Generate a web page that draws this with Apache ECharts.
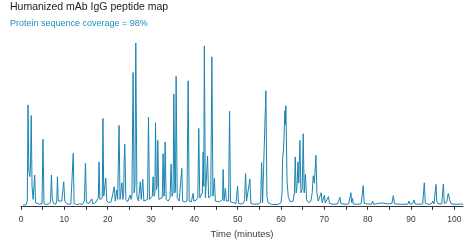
<!DOCTYPE html>
<html>
<head>
<meta charset="utf-8">
<script src="https://cdn.jsdelivr.net/npm/echarts@6/dist/echarts.min.js"></script>
<style>
  html, body { margin: 0; padding: 0; background: #fff; }
  #chart { width: 474px; height: 246px; }
</style>
</head>
<body>
<div id="chart"></div>
<script>
// peptide map trace, [time (min), relative intensity %]
const traceEarly = [
    [0.5, 0.6], [1.2, 0.8], [1.45, 3], [1.62, 62], [1.8, 22], [2.05, 18], [2.2, 26], [2.36, 55.5],
    [2.55, 12], [2.8, 4], [3.0, 4], [3.16, 19], [3.35, 2], [3.8, 1.2], [4.3, 1], [4.85, 1.5],
    [5.08, 41], [5.3, 1.5], [5.8, 0.8], [6.3, 1.2], [6.8, 2], [7.02, 19], [7.2, 5], [7.5, 1.5],
    [8.0, 1], [8.25, 3], [8.41, 17.9], [8.6, 3], [9.0, 2], [9.4, 3], [9.6, 8], [9.86, 14.8],
    [10.1, 3], [10.5, 1.5], [11.0, 1], [11.5, 1.2], [11.9, 1], [12.06, 32.3], [12.25, 1.5],
    [12.8, 0.8], [13.5, 1.2], [14.2, 1], [14.6, 3], [14.7, 9], [14.87, 26.2], [15.1, 2],
    [15.7, 1.5], [16.1, 1.2], [16.33, 4.3], [16.6, 1.2], [17.2, 2], [17.6, 2.5], [17.85, 5],
    [18.01, 27], [18.2, 4], [18.5, 3], [18.75, 5], [18.91, 53.7], [19.1, 6], [19.35, 5],
    [19.56, 17.1], [19.8, 3], [20.3, 2]
];

const traceMiddle = [
    [20.8, 2.5], [21.2, 3.5], [21.52, 11.8], [21.75, 3], [21.95, 4], [22.1, 9.8], [22.3, 4],
    [22.48, 5], [22.63, 49.4], [22.85, 4], [23.1, 5], [23.3, 14.2], [23.5, 4], [23.7, 8],
    [23.8, 27], [23.95, 37.8], [24.2, 4], [24.6, 2.5], [25.0, 3], [25.2, 6.7], [25.4, 4],
    [25.6, 6], [25.87, 81.9], [26.1, 8], [26.3, 12], [26.49, 100], [26.75, 6], [27.1, 3],
    [27.35, 4], [27.53, 14.8], [27.75, 4], [27.95, 5], [28.1, 16.3], [28.35, 3], [28.8, 2.5],
    [29.2, 4], [29.42, 54.5], [29.65, 4], [30.0, 3.5], [30.3, 6], [30.49, 17.9], [30.7, 6],
    [30.9, 8], [31.04, 51], [31.25, 10], [31.4, 12], [31.57, 40.2], [31.8, 4], [32.2, 3],
    [32.6, 5], [32.79, 32.1], [33.0, 6], [33.1, 10], [33.26, 39.2], [33.5, 4], [34.0, 3],
    [34.4, 5], [34.64, 25.6], [34.85, 6], [35.1, 8], [35.27, 68.7], [35.5, 8], [35.65, 10],
    [35.8, 79.5], [36.05, 5], [36.5, 3], [36.9, 4], [37.11, 23], [37.3, 3], [37.8, 2.5],
    [38.3, 3], [38.57, 76.8], [38.8, 3], [39.3, 2.5], [39.55, 3.5], [39.72, 7.7], [39.9, 3],
    [40.4, 3.5], [40.8, 5], [41.02, 47.6], [41.25, 5], [41.6, 4], [41.85, 8], [42.03, 33.1],
    [42.18, 12], [42.31, 98.2], [42.55, 5], [42.85, 6], [43.05, 30.5], [43.3, 5], [43.8, 6],
    [44.04, 91.5], [44.3, 6], [44.45, 5], [44.62, 16.9], [44.85, 3]
];

const traceLate = [
    [45.3, 2], [45.8, 2.5], [46.2, 2], [46.5, 4], [46.65, 22.4], [46.85, 3], [47.0, 4],
    [47.16, 10.8], [47.4, 3], [47.9, 3], [48.13, 58.1], [48.35, 2.5], [49.0, 2], [49.6, 1.5],
    [49.98, 12.2], [50.2, 1.5], [50.8, 1.2], [51.4, 2], [51.6, 4], [51.82, 19.9], [52.05, 3],
    [52.5, 2.5], [52.82, 16.5], [53.05, 1.5], [53.8, 1], [54.7, 1.2], [55.3, 2], [55.52, 26.6],
    [55.75, 2], [56.2, 3], [56.51, 70.7], [56.75, 6], [57.0, 2], [57.8, 1], [58.6, 0.8],
    [59.4, 1], [60.0, 2], [60.25, 8], [60.37, 28.7], [60.6, 35], [60.9, 58.5], [61.0, 50],
    [61.13, 61.6], [61.4, 15], [61.7, 5], [62.2, 2.5], [62.8, 3], [63.1, 8], [63.28, 30.1],
    [63.5, 8], [63.7, 12], [63.9, 27], [64.1, 14], [64.36, 40.2], [64.6, 8], [64.9, 10],
    [65.13, 44.3], [65.35, 8], [65.64, 19.5], [65.9, 4], [66.4, 2], [66.9, 3], [67.2, 8],
    [67.44, 18.5], [67.7, 14], [68.06, 31], [68.3, 8], [68.6, 3], [69.0, 2], [69.28, 8.1],
    [69.5, 2], [69.8, 2], [70.02, 6.7], [70.2, 1.8]
];

const traceTail = [
    [70.6, 1.5], [70.95, 5.7], [71.2, 1.5], [72.0, 1], [73.0, 1.2], [73.4, 1.5], [73.6, 5.3],
    [73.8, 1.5], [74.8, 1], [75.6, 1.2], [75.95, 2], [76.14, 8.1], [76.3, 2], [76.49, 4.7],
    [76.7, 1.2], [77.6, 1], [78.5, 1.3], [78.8, 2], [78.98, 12.4], [79.2, 1.5], [80.0, 1.2],
    [80.9, 1], [81.15, 3], [81.4, 1], [82.3, 1.5], [83.5, 1.8], [84.6, 1.2], [85.6, 1.5],
    [85.91, 6.3], [86.2, 1.3], [87.5, 1], [88.6, 1], [89.3, 1.2], [89.54, 3], [89.8, 1],
    [90.4, 1.5], [90.69, 3.7], [90.95, 1.2], [91.8, 1], [92.7, 1.2], [92.9, 2], [93.07, 14.2],
    [93.3, 1.5], [94.2, 1], [94.8, 1.5], [95.01, 3], [95.3, 1.2], [95.6, 2], [95.77, 13.2],
    [95.95, 3], [96.2, 1.3], [97.1, 1.2], [97.3, 2], [97.46, 13.4], [97.7, 1.5], [98.2, 2],
    [98.61, 7.7], [98.9, 4], [99.3, 1.2], [100.5, 1], [101.5, 1.2], [102, 1]
];

const tickValues = [0, 5, 10, 15, 20, 25, 30, 35, 40, 45, 50, 55, 60, 65, 70, 75, 80, 85, 90, 95, 100];
const labelValues = [0, 10, 20, 30, 40, 50, 60, 70, 80, 90, 100];

const chart = echarts.init(document.getElementById('chart'));
const textColor = '#3a3a3a';
const lineColor = '#1a84b0';

chart.setOption({
    animation: false,
    backgroundColor: '#ffffff',
    title: {
        text: 'Humanized mAb IgG peptide map',
        subtext: 'Protein sequence coverage = 98%',
        left: 5,
        top: -3,
        itemGap: 6,
        textStyle: { fontFamily: 'Liberation Sans', fontSize: 10.5, fontWeight: 'normal', color: '#222222' },
        subtextStyle: { fontFamily: 'Liberation Sans', fontSize: 9, color: '#1a8fbf' }
    },
    grid: { left: 21, right: 11, top: 43, bottom: 36 },
    xAxis: {
        type: 'value',
        min: 0,
        max: 102,
        name: 'Time (minutes)',
        nameLocation: 'middle',
        nameGap: 18,
        nameTextStyle: { fontFamily: 'Liberation Sans', fontSize: 9.5, color: textColor },
        axisLine: { lineStyle: { color: '#333333', width: 1 } },
        axisTick: { show: true, length: 4, customValues: tickValues, lineStyle: { color: '#333333' } },
        axisLabel: {
            customValues: labelValues,
            fontFamily: 'Liberation Sans',
            fontSize: 8.5,
            color: textColor,
            margin: 5
        },
        splitLine: { show: false }
    },
    yAxis: {
        type: 'value',
        min: -2.5,
        max: 100,
        show: false
    },
    series: [{
        type: 'line',
        data: [...traceEarly, ...traceMiddle, ...traceLate, ...traceTail],
        showSymbol: false,
        lineStyle: { color: lineColor, width: 1 },
        z: 2
    }]
});
</script>
</body>
</html>
